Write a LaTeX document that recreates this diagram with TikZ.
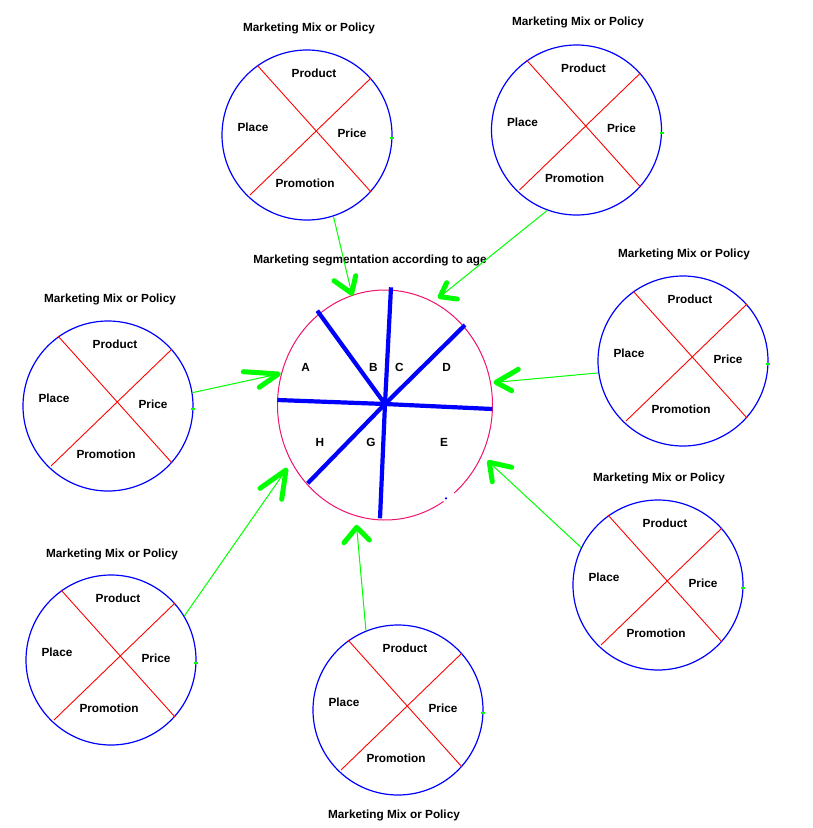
\documentclass[tikz,border=0pt]{standalone}
\usepackage{fontspec}
\setmainfont{Liberation Sans}
\usetikzlibrary{shapes.geometric}
\definecolor{mblue}{RGB}{0,0,255}
\definecolor{mred}{RGB}{255,0,0}
\definecolor{mgreen}{RGB}{0,255,0}
\definecolor{mpink}{RGB}{240,20,110}
\begin{document}
\begin{tikzpicture}[x=1pt,y=-1pt,
  smallc/.style={circle,draw=mblue,line width=1.2pt,minimum size=170pt,inner sep=0pt},
  lbl/.style={font=\fontsize{11.8}{13}\selectfont\bfseries,inner sep=0pt},
  crossln/.style={draw=mred,line width=0.9pt},
  spoke/.style={draw=mblue,line width=4.2pt},
  feed/.style={draw=mgreen,line width=1pt},
  vhead/.style={draw=mgreen,line width=5pt,line cap=round,line join=round},
  gtick/.style={draw=mgreen,line width=1.2pt}]
\fill[white] (0,0) rectangle (812,828);
\useasboundingbox (0,0) rectangle (812,828);

% small circles
\foreach \n/\x/\y/\tx/\ty in {1/307/135/2/-107, 2/576.5/130/1.5/-108, 3/683/361/1/-107, 4/658/585/1/-107, 5/398/710/-4/105, 6/111/660/1/-106, 7/108/406/2/-107}{
  \node[smallc] (c\n) at (\x,\y) {};
  \draw[crossln] ({\x-50},{\y-70}) -- ({\x+64},{\y+57});
  \draw[crossln] ({\x+64},{\y-57}) -- ({\x-57},{\y+60});
  \node[lbl] (prod\n) at ({\x+7},{\y-62}) {Product};
  \node[lbl] (place\n) at ({\x-54},{\y-8}) {Place};
  \node[lbl] (price\n) at ({\x+45},{\y-2}) {Price};
  \node[lbl] (promo\n) at ({\x-2},{\y+48}) {Promotion};
  \node[lbl] (title\n) at ({\x+\tx},{\y+\ty}) {Marketing Mix or Policy};
  \draw[gtick] ({\x+83},{\y+3}) -- ({\x+87},{\y+3});
}

% central segmentation circle
\node[ellipse,minimum width=215pt,minimum height=231pt,inner sep=0pt] (seg) at (385,405) {};
\draw[mpink,line width=1pt] (seg.center) ++(57:107.5 and 115)
  arc[start angle=57,end angle=410,x radius=107.5,y radius=115];
\fill[mblue] (446,498.3) circle (1.2);
\node[lbl] (segtitle) at (370,260.7) {Marketing segmentation according to age};

\coordinate (hub) at (385,404);
\coordinate (sp1) at (391,287.3);
\coordinate (sp2) at (317.3,310.7);
\coordinate (sp3) at (465,325);
\coordinate (sp4) at (277.3,400);
\coordinate (sp5) at (492.3,409);
\coordinate (sp6) at (307.7,483.3);
\coordinate (sp7) at (380,518.3);
\foreach \s in {1,...,7}{\draw[spoke] (hub) -- (sp\s);}

\node[lbl] (segA) at (305.7,367.3) {A};
\node[lbl] (segB) at (373.3,367.3) {B};
\node[lbl] (segC) at (399.3,367.3) {C};
\node[lbl] (segD) at (446.7,367.3) {D};
\node[lbl] (segH) at (320,442.7) {H};
\node[lbl] (segG) at (371,442.7) {G};
\node[lbl] (segE) at (444,442.7) {E};

% green connectors with hand-drawn heads
\coordinate (t1) at (351.7,293.3); \coordinate (a1l) at (334,280.7); \coordinate (a1r) at (355.7,275.7);
\coordinate (t2) at (440,296.7); \coordinate (a2l) at (446.7,282.7); \coordinate (a2r) at (457.3,299);
\coordinate (t3) at (496,382.3); \coordinate (a3l) at (518.3,369.3); \coordinate (a3r) at (511.7,390.7);
\coordinate (t4) at (489.3,462.3); \coordinate (a4l) at (511.7,467.3); \coordinate (a4r) at (492.3,481.7);
\coordinate (t5) at (356.7,527.3); \coordinate (a5l) at (344,542.7); \coordinate (a5r) at (369.3,540);
\coordinate (t6) at (286,470); \coordinate (a6l) at (260,488.3); \coordinate (a6r) at (281.7,499.3);
\coordinate (t7) at (278.3,374); \coordinate (a7l) at (243.3,371.7); \coordinate (a7r) at (259.3,387.3);

\draw[feed] (c1.-72) -- (t1);
\draw[feed] (c2.-110.9) -- (t2);
\draw[feed] (c3.188.3) -- (t3);
\draw[feed] (c4.154.7) -- (t4);
\draw[feed] (c5.112) -- (t5);
\draw[feed] (c6.31.3) -- (t6);
\draw[feed] (c7.9.3) -- (t7);
\foreach \k in {1,...,7}{\draw[vhead] (a\k l) -- (t\k) -- (a\k r);}
\end{tikzpicture}
\end{document}
